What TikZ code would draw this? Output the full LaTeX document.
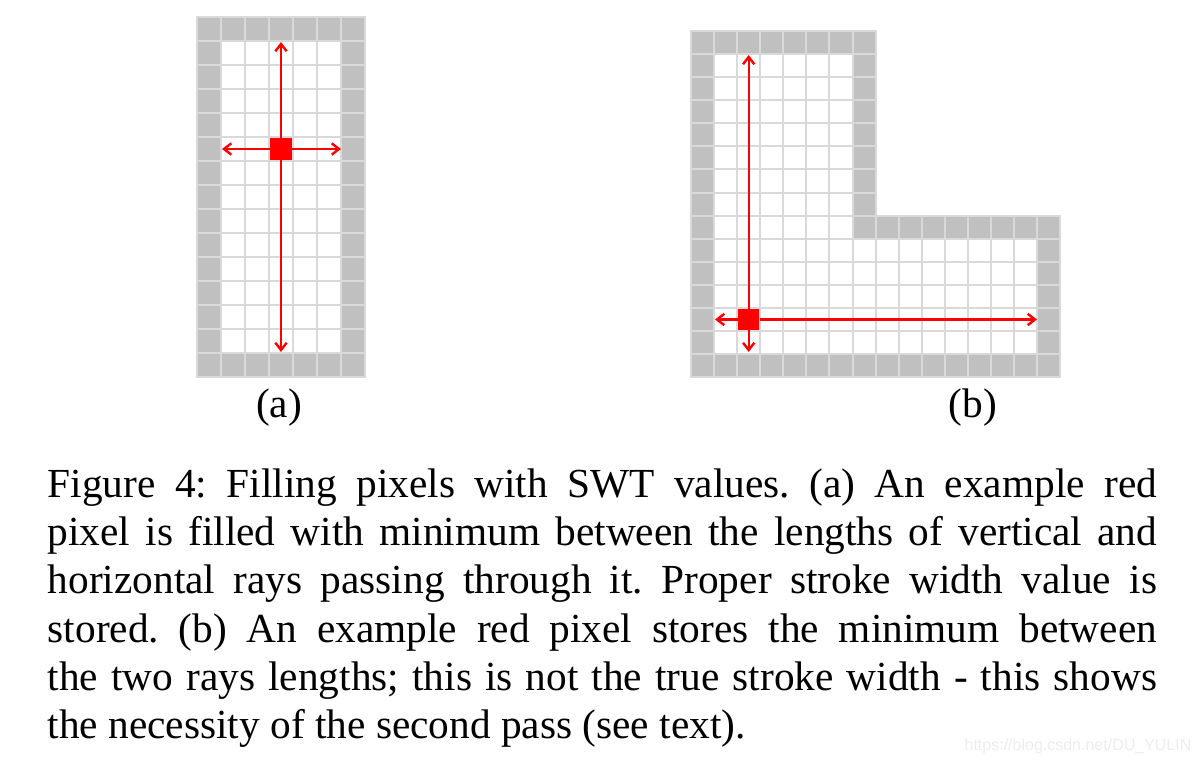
\documentclass[tikz,border=0pt]{standalone}
\usepackage{fontspec}
\setmainfont{Liberation Serif}
\newfontfamily\wmfont{Liberation Sans}
\usetikzlibrary{arrows.meta}
\definecolor{cellgray}{HTML}{C0C0C0}
\definecolor{gridcol}{HTML}{D9D9D9}
\definecolor{rayred}{HTML}{FF0000}
\begin{document}
\frenchspacing
\begin{tikzpicture}[x=0.75pt,y=-0.75pt,
  cellw/.style={fill=white,draw=gridcol,line width=1.5pt},
  cellg/.style={fill=cellgray,draw=gridcol,line width=1.5pt},
  pix/.style={fill=rayred,draw=none,inner sep=0pt,minimum size=16.5pt},
  ray/.style={draw=rayred,line width=1.8pt,-{Straight Barb[length=5.5pt,width=8.5pt]}},
  caption/.style={anchor=base west,inner sep=0pt,font=\fontsize{31pt}{36pt}\selectfont},
  sublabel/.style={anchor=base,inner sep=0pt,font=\fontsize{31pt}{36pt}\selectfont}]
\fill[white] (0,0) rectangle (1198,764);
\useasboundingbox (0,0) rectangle (1198,764);
% grid (a)
\foreach \i in {0,...,6}{\foreach \j in {0,...,14}{%
  \pgfmathtruncatemacro\g{(\i==0)||(\i==6)||(\j==0)||(\j==14)}%
  \ifnum\g=1 \path[cellg] ({197+\i*24},{17+\j*24}) rectangle ++(24,24);%
  \else \path[cellw] ({197+\i*24},{17+\j*24}) rectangle ++(24,24);\fi}}
% grid (b)
\foreach \i in {0,...,15}{\foreach \j in {0,...,14}{%
  \pgfmathtruncatemacro\e{(\j>=8)||(\i<=7)}%
  \pgfmathtruncatemacro\g{(\i==0)||(\j==14)||((\j==0)&&(\i<=7))||((\i==7)&&(\j<=8))||((\j==8)&&(\i>=7))||((\i==15)&&(\j>=8))}%
  \ifnum\e=1
    \ifnum\g=1 \path[cellg] ({691+\i*23.08},{31+\j*23.08}) rectangle ++(23.08,23.08);%
    \else \path[cellw] ({691+\i*23.08},{31+\j*23.08}) rectangle ++(23.08,23.08);\fi
  \fi}}
% (a) red pixel and rays
\node[pix] (pa) at (281,149) {};
\coordinate (atop) at (281,42);
\coordinate (abot) at (281,352);
\coordinate (aleft) at (222,149);
\coordinate (aright) at (341,149);
\draw[ray] (pa.north) -- (atop);
\draw[ray] (pa.south) -- (abot);
\draw[ray] (pa.west) -- (aleft);
\draw[ray] (pa.east) -- (aright);
% (b) red pixel and rays
\node[pix,minimum size=16pt] (pb) at (748.7,319.5) {};
\coordinate (btop) at (748.7,55);
\coordinate (bbot) at (748.7,352);
\coordinate (bleft) at (715,319.5);
\coordinate (bright) at (1037,319.5);
\draw[ray] (pb.north) -- (btop);
\draw[ray] (pb.south) -- (bbot);
\draw[ray] (pb.west) -- (bleft);
\draw[ray] (pb.east) -- (bright);
% sub labels
\node[sublabel] (la) at (279,417) {(a)};
\node[sublabel] (lb) at (973,417) {(b)};
% caption
\node[caption] (c1) at (47.5,497) {\hbox to 832pt{Figure 4: Filling pixels with SWT values. (a) An example red}};
\node[caption] (c2) at (47.5,545) {\hbox to 832pt{pixel is filled with minimum between the lengths of vertical and}};
\node[caption] (c3) at (47.5,593) {\hbox to 832pt{horizontal rays passing through it. Proper stroke width value is}};
\node[caption] (c4) at (47.5,642) {\hbox to 832pt{stored. (b) An example red pixel stores the minimum between}};
\node[caption] (c5) at (47.5,690) {\hbox to 832pt{the two rays lengths; this is not the true stroke width - this shows}};
\node[caption] (c6) at (47.5,738) {the necessity of the second pass (see text).};
% watermark
\node[anchor=base,inner sep=0pt,text=black!7,font=\wmfont\fontsize{12pt}{14pt}\selectfont] (wm) at (1078,750) {https://blog.csdn.net/DU\_YULIN};
\end{tikzpicture}
\end{document}
